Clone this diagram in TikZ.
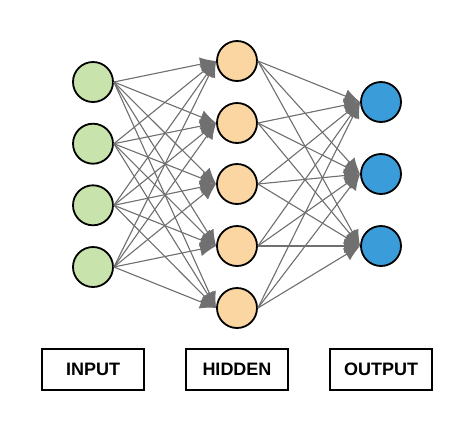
\documentclass[tikz,border=0pt]{standalone}
\usepackage{fontspec}
\setmainfont{Liberation Sans}
\usetikzlibrary{arrows.meta}
\definecolor{ingreen}{RGB}{200,228,172}
\definecolor{hidpeach}{RGB}{251,214,162}
\definecolor{outblue}{RGB}{58,157,218}
\definecolor{edgegray}{RGB}{112,112,112}
\tikzset{
  neuron/.style={circle, draw=black, line width=1.8pt, minimum size=40pt, inner sep=0pt},
  inn/.style={neuron, fill=ingreen},
  hid/.style={neuron, fill=hidpeach},
  outn/.style={neuron, fill=outblue},
  conn/.style={draw=edgegray, line width=1.1pt, -{Latex[length=16pt,width=14pt]}, fill=edgegray},
  label/.style={draw=black, line width=1.6pt, minimum width=102pt, minimum height=41pt, inner sep=0pt, font=\fontsize{18}{20}\selectfont\bfseries}
}
\begin{document}
\begin{tikzpicture}[x=1pt,y=-1pt]
\useasboundingbox (0,0) rectangle (474,432);
\foreach \i/\y in {1/82,2/143.7,3/205.3,4/267} \node[inn] (i\i) at (93,\y) {};
\foreach \i/\y in {1/61,2/123,3/184,4/246,5/308} \node[hid] (h\i) at (237,\y) {};
\foreach \i/\y in {1/102,2/174,3/246} \node[outn] (o\i) at (381,\y) {};
\foreach \a in {1,...,4}{\foreach \b in {1,...,5}{\draw[conn] (i\a.east) -- (h\b.west);}}
\foreach \a in {1,...,5}{\foreach \b in {1,...,3}{\draw[conn] (h\a.east) -- (o\b.west);}}
\node[label] (lin) at (93,369.5) {INPUT};
\node[label] (lhid) at (237,369.5) {HIDDEN};
\node[label] (lout) at (381,369.5) {OUTPUT};
\end{tikzpicture}
\end{document}
